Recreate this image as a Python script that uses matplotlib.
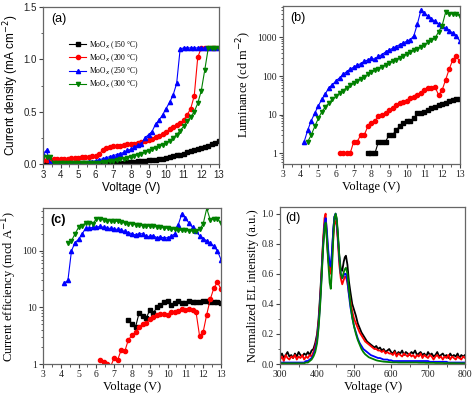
import numpy as np
import matplotlib
matplotlib.use("Agg")
import matplotlib.pyplot as plt
from matplotlib.ticker import AutoMinorLocator, LogLocator, NullFormatter

# ---------------- data ----------------
labels = ["MoO$_x$ (150 °C)", "MoO$_x$ (200 °C)", "MoO$_x$ (250 °C)", "MoO$_x$ (300 °C)"]
colors = ["#000000", "#ff0000", "#0000ff", "#008000"]
markers = ["s", "o", "^", "v"]

# (a) current density vs voltage (3..13 V, 0.2 V steps)
v_a = [round(3 + 0.2 * i, 1) for i in range(51)]
j_150 = [0.01, 0.01, 0.01, 0.01, 0.01, 0.01, 0.01, 0.01, 0.01, 0.01,
         0.01, 0.01, 0.01, 0.01, 0.01, 0.01, 0.01, 0.01, 0.01, 0.01,
         0.01, 0.01, 0.01, 0.01, 0.02, 0.02, 0.02, 0.03, 0.03, 0.03,
         0.04, 0.04, 0.04, 0.05, 0.05, 0.06, 0.07, 0.08, 0.09, 0.09,
         0.10, 0.11, 0.12, 0.13, 0.14, 0.15, 0.16, 0.17, 0.19, 0.20, 0.22]
j_200 = [0.04, 0.04, 0.04, 0.05, 0.05, 0.05, 0.05, 0.05, 0.06, 0.06,
         0.06, 0.07, 0.07, 0.07, 0.08, 0.08, 0.10, 0.13, 0.15, 0.16,
         0.17, 0.17, 0.17, 0.18, 0.19, 0.19, 0.19, 0.20, 0.21, 0.22,
         0.23, 0.24, 0.26, 0.27, 0.29, 0.31, 0.33, 0.35, 0.37, 0.39,
         0.42, 0.47, 0.53, 0.65, 1.02, 1.11, 1.11, 1.11, 1.11, 1.11, 1.11]
j_250 = [0.10, 0.13, 0.01, 0.01, 0.01, 0.01, 0.01, 0.01, 0.01, 0.01,
         0.01, 0.01, 0.01, 0.02, 0.02, 0.03, 0.04, 0.05, 0.06, 0.07,
         0.08, 0.09, 0.10, 0.11, 0.13, 0.14, 0.16, 0.18, 0.19, 0.25,
         0.28, 0.31, 0.38, 0.42, 0.47, 0.53, 0.59, 0.66, 0.77, 1.10,
         1.11, 1.11, 1.11, 1.11, 1.11, 1.11, 1.11, 1.11, 1.11, 1.11, 1.11]
j_300 = [0.07, 0.07, 0.07, 0.01, 0.01, 0.01, 0.01, 0.01, 0.01, 0.01,
         0.01, 0.01, 0.01, 0.01, 0.01, 0.01, 0.01, 0.02, 0.02, 0.03,
         0.03, 0.04, 0.05, 0.05, 0.06, 0.07, 0.08, 0.09, 0.10, 0.11,
         0.12, 0.14, 0.15, 0.17, 0.18, 0.20, 0.22, 0.25, 0.28, 0.32,
         0.36, 0.41, 0.45, 0.50, 0.58, 0.70, 0.90, 1.11, 1.11, 1.11, 1.11]

# (b) luminance
v_b150 = [round(7.8 + 0.2 * i, 1) for i in range(27)]
l_150 = [1, 1, 1, 2, 2, 2, 3, 3, 4, 5, 6, 7, 7, 8, 11, 11, 12, 13, 15, 16,
         18, 19, 20, 22, 24, 26, 25]
v_b200 = [round(6.2 + 0.2 * i, 1) for i in range(35)]
l_200 = [1, 1, 1, 1, 2, 2, 3, 3, 5, 6, 7, 9, 10, 11, 13, 15, 18, 20, 21, 22,
         27, 29, 33, 37, 43, 48, 50, 53, 32, 43, 80, 150, 260, 320, 240]
v_b250 = [round(4.2 + 0.2 * i, 1) for i in range(45)]
l_250 = [2, 4, 7, 11, 17, 25, 35, 50, 60, 75, 90, 110, 130, 150, 170, 190, 210,
         240, 260, 290, 270, 320, 360, 420, 470, 520, 580, 650, 720, 790, 870,
         1100, 2200, 5000, 4200, 3500, 3000, 2600, 2200, 2000, 1700, 1500, 1300,
         1100, 800]
v_b300 = [round(4.4 + 0.2 * i, 1) for i in range(44)]
l_300 = [2, 3, 5, 8, 12, 16, 20, 25, 30, 36, 42, 50, 57, 65, 75, 85, 97, 110,
         125, 140, 155, 175, 195, 215, 240, 265, 295, 330, 370, 410, 460, 510,
         580, 650, 740, 840, 950, 1400, 2000, 4500, 4000, 4100, 4100, 3600]

# (c) current efficiency
v_c150 = v_b150
ce_150 = [6, 5, 4.5, 8, 7, 6.5, 9, 8, 10, 11, 12.5, 13, 11, 12, 13, 12, 12, 13,
          12.5, 12.5, 12.5, 13, 13, 12.5, 12.5, 12.5, 12]
v_c200 = v_b200
ce_200 = [1.2, 1.1, 1.0, 0.9, 1.3, 1.2, 1.8, 1.7, 2.7, 3.2, 3.7, 4.6, 5.0, 5.3,
          6.2, 6.7, 7.5, 7.8, 7.8, 7.5, 8.2, 8.2, 8.5, 9.5, 9.0, 9.5, 9.0, 8.2,
          3.1, 3.7, 7.5, 14, 22, 28, 21]
v_c250 = v_b250
ce_250 = [27, 30, 100, 140, 160, 200, 250, 250, 260, 260, 270, 260, 250, 250,
          240, 240, 230, 220, 210, 200, 190, 200, 200, 180, 180, 185, 170, 175,
          170, 170, 180, 200, 290, 450, 380, 310, 260, 220, 185, 165, 150, 135,
          120, 100, 70]
v_c300 = v_b300
ce_300 = [140, 150, 200, 260, 280, 310, 310, 300, 370, 370, 350, 340, 340, 340,
          330, 320, 310, 300, 300, 290, 290, 280, 280, 270, 270, 265, 260, 255,
          250, 245, 240, 235, 230, 230, 225, 225, 220, 240, 300, 560, 350, 370,
          370, 310]

# (d) normalized EL spectra
wl = ([300, 305, 310, 315, 320, 325, 330, 335, 340, 345, 350, 355, 360, 365,
       370, 375, 380, 385, 390, 395]
      + [400, 404, 408, 412, 416, 420, 423, 426, 430, 434, 437, 440, 444, 447,
         450, 453, 456, 460, 464, 468, 472, 475, 478, 482, 486, 490, 495]
      + list(range(500, 805, 5)))
el_150 = ([0.05, 0.07, 0.04, 0.06, 0.08, 0.05, 0.06, 0.04, 0.07, 0.05, 0.08,
           0.06, 0.05, 0.07, 0.06, 0.08, 0.06, 0.09, 0.10, 0.14]
          + [0.20, 0.30, 0.45, 0.62, 0.80, 0.92, 0.95, 0.85, 0.70, 0.62, 0.62,
             0.72, 0.90, 0.98, 0.99, 0.95, 0.85, 0.72, 0.63, 0.62, 0.68, 0.71,
             0.72, 0.66, 0.55, 0.48, 0.40]
          + [0.36, 0.32, 0.27, 0.24, 0.21, 0.19, 0.17, 0.15, 0.14, 0.13, 0.12,
             0.11, 0.12, 0.10, 0.11, 0.09, 0.10, 0.08, 0.09, 0.10, 0.08]
          + [0.07, 0.09, 0.06, 0.08, 0.07, 0.09, 0.06, 0.08, 0.07, 0.06, 0.08,
             0.07, 0.09, 0.06, 0.07, 0.08, 0.06, 0.07, 0.05, 0.08, 0.06, 0.07,
             0.05, 0.06, 0.08, 0.05, 0.06, 0.07, 0.05, 0.06, 0.04, 0.07, 0.05,
             0.06, 0.05, 0.07, 0.04, 0.06, 0.05, 0.06])
el_200 = ([0.03, 0.05, 0.02, 0.06, 0.04, 0.03, 0.05, 0.04, 0.06, 0.03, 0.05,
           0.04, 0.06, 0.03, 0.05, 0.04, 0.06, 0.05, 0.08, 0.12]
          + [0.18, 0.28, 0.42, 0.60, 0.82, 0.97, 1.00, 0.88, 0.72, 0.62, 0.60,
             0.68, 0.85, 0.94, 0.95, 0.92, 0.82, 0.66, 0.57, 0.53, 0.56, 0.58,
             0.58, 0.54, 0.47, 0.42, 0.35]
          + [0.30, 0.27, 0.24, 0.21, 0.19, 0.17, 0.15, 0.14, 0.13, 0.12, 0.11,
             0.10, 0.10, 0.09, 0.09, 0.08, 0.09, 0.07, 0.08, 0.07, 0.07]
          + [0.06, 0.08, 0.05, 0.07, 0.06, 0.05, 0.07, 0.06, 0.05, 0.07, 0.05,
             0.06, 0.04, 0.06, 0.05, 0.07, 0.04, 0.06, 0.05, 0.04, 0.06, 0.05,
             0.03, 0.05, 0.06, 0.04, 0.05, 0.03, 0.05, 0.04, 0.06, 0.03, 0.05,
             0.04, 0.03, 0.05, 0.04, 0.03, 0.05, 0.04])
el_250 = ([0.01, 0.01, 0.01, 0.01, 0.01, 0.01, 0.01, 0.01, 0.01, 0.01, 0.01,
           0.01, 0.01, 0.01, 0.02, 0.02, 0.03, 0.04, 0.06, 0.10]
          + [0.16, 0.26, 0.40, 0.58, 0.78, 0.93, 0.97, 0.90, 0.76, 0.66, 0.65,
             0.74, 0.90, 0.98, 1.00, 0.96, 0.85, 0.70, 0.60, 0.57, 0.59, 0.60,
             0.60, 0.55, 0.46, 0.38, 0.31]
          + [0.25, 0.21, 0.17, 0.14, 0.12, 0.10, 0.09, 0.08, 0.07, 0.06, 0.055,
             0.05, 0.045, 0.04, 0.04, 0.035, 0.03, 0.03, 0.03, 0.025, 0.025]
          + [0.02, 0.02, 0.02, 0.02, 0.02, 0.02, 0.02, 0.02, 0.02, 0.02, 0.02,
             0.02, 0.02, 0.02, 0.02, 0.02, 0.02, 0.02, 0.02, 0.02, 0.015, 0.015,
             0.015, 0.015, 0.015, 0.015, 0.015, 0.015, 0.015, 0.015, 0.01, 0.01,
             0.01, 0.01, 0.01, 0.01, 0.01, 0.01, 0.01, 0.01])
el_300 = ([0.005, 0.005, 0.005, 0.005, 0.005, 0.005, 0.005, 0.005, 0.005,
           0.005, 0.005, 0.005, 0.005, 0.005, 0.01, 0.01, 0.02, 0.03, 0.05, 0.08]
          + [0.14, 0.24, 0.38, 0.56, 0.76, 0.90, 0.94, 0.85, 0.68, 0.54, 0.50,
             0.62, 0.85, 0.97, 1.00, 0.97, 0.88, 0.72, 0.60, 0.57, 0.61, 0.63,
             0.64, 0.60, 0.50, 0.40, 0.31]
          + [0.25, 0.20, 0.16, 0.13, 0.10, 0.08, 0.065, 0.055, 0.045, 0.04,
             0.035, 0.03, 0.025, 0.022, 0.02, 0.018, 0.016, 0.015, 0.014, 0.013,
             0.012]
          + [0.011, 0.011, 0.011, 0.01, 0.01, 0.01, 0.01, 0.01, 0.01, 0.01, 0.01,
             0.01, 0.01, 0.01, 0.009, 0.009, 0.009, 0.009, 0.008, 0.008, 0.008,
             0.008, 0.008, 0.007, 0.007, 0.007, 0.007, 0.007, 0.006, 0.006,
             0.006, 0.006, 0.006, 0.006, 0.005, 0.005, 0.005, 0.005, 0.005, 0.005])

# ---------------- drawing ----------------
SERIF = ["Liberation Serif", "DejaVu Serif"]
SANS = ["Liberation Sans", "DejaVu Sans"]
fig = plt.figure(figsize=(4.74, 3.97), dpi=100)

ax_a = fig.add_axes([0.0907, 0.587, 0.371, 0.395])
ax_b = fig.add_axes([0.597, 0.587, 0.373, 0.398])
ax_c = fig.add_axes([0.0907, 0.083, 0.3755, 0.393])
ax_d = fig.add_axes([0.591, 0.083, 0.390, 0.396])

def style(ax, family, logy=False):
    for s in ax.spines.values():
        s.set_color("#666666")
        s.set_linewidth(0.9)
    ax.tick_params(which="both", direction="out", top=False, right=False,
                   colors="#444444", labelcolor="#222222")
    ax.tick_params(which="major", length=3, width=0.8, labelsize=7, pad=1.5)
    ax.tick_params(which="minor", length=1.8, width=0.6)
    ax.xaxis.set_minor_locator(AutoMinorLocator(2))
    if not logy:
        ax.yaxis.set_minor_locator(AutoMinorLocator(2))
    else:
        ax.yaxis.set_major_locator(LogLocator(base=10))
        ax.yaxis.set_minor_locator(LogLocator(base=10, subs=np.arange(2, 10)))
        ax.yaxis.set_minor_formatter(NullFormatter())
    for lab in ax.get_xticklabels() + ax.get_yticklabels():
        lab.set_family(family)

# (a)
ya = [j_150, j_200, j_250, j_300]
for y, c, m, lab in zip(ya, colors, markers, labels):
    ax_a.plot(v_a, y, color=c, marker=m, ms=3, lw=0.8, label=lab)
ax_a.set_xlim(3, 13)
ax_a.set_ylim(0, 1.5)
ax_a.set_xticks(range(3, 14))
ax_a.set_yticks([0.0, 0.5, 1.0, 1.5])
ax_a.set_yticklabels(["0.0", "0.5", "1.0", "1.5"])
style(ax_a, SANS)
ax_a.set_xlabel("Voltage (V)", family=SANS, fontsize=8.5, labelpad=1)
ax_a.set_ylabel("Current density (mA cm$^{-2}$)", family=SANS, fontsize=8.5, labelpad=2)
ax_a.text(0.045, 0.96, "(a)", transform=ax_a.transAxes, family=SANS,
          fontsize=9, va="top", ha="left")
leg = ax_a.legend(loc="upper left", bbox_to_anchor=(0.12, 0.83), frameon=False,
                  prop={"family": SERIF, "size": 5.5}, handlelength=2.2,
                  handletextpad=0.3, labelspacing=0.2, borderpad=0.2)

# (b)
xb = [v_b150, v_b200, v_b250, v_b300]
yb = [l_150, l_200, l_250, l_300]
for x, y, c, m in zip(xb, yb, colors, markers):
    ax_b.plot(x, y, color=c, marker=m, ms=3, lw=0.8)
ax_b.set_yscale("log")
ax_b.set_xlim(3, 13)
ax_b.set_ylim(0.53, 6500)
ax_b.set_xticks(range(3, 14))
style(ax_b, SERIF, logy=True)
ax_b.set_yticks([1, 10, 100, 1000])
ax_b.set_yticklabels(["1", "10", "100", "1000"], family=SERIF)
ax_b.set_xlabel("Voltage (V)", family=SERIF, fontsize=9, labelpad=1)
ax_b.set_ylabel("Luminance (cd m$^{-2}$)", family=SERIF, fontsize=9, labelpad=2)
ax_b.text(0.04, 0.96, "(b)", transform=ax_b.transAxes, family=SANS,
          fontsize=9, va="top", ha="left")

# (c)
xc = [v_c150, v_c200, v_c250, v_c300]
yc = [ce_150, ce_200, ce_250, ce_300]
for x, y, c, m in zip(xc, yc, colors, markers):
    ax_c.plot(x, y, color=c, marker=m, ms=3, lw=0.8)
ax_c.set_yscale("log")
ax_c.set_xlim(3, 13)
ax_c.set_ylim(1, 570)
ax_c.set_xticks(range(3, 14))
style(ax_c, SERIF, logy=True)
ax_c.set_yticks([1, 10, 100])
ax_c.set_yticklabels(["1", "10", "100"], family=SERIF)
ax_c.set_xlabel("Voltage (V)", family=SERIF, fontsize=9, labelpad=1)
ax_c.set_ylabel("Current efficiency (mcd A$^{-1}$)", family=SERIF, fontsize=9, labelpad=2)
ax_c.text(0.04, 0.96, "(c)", transform=ax_c.transAxes, family=SANS,
          fontsize=9, va="top", ha="left", weight="bold")

# (d)
yd = [el_150, el_200, el_250, el_300]
for y, c in zip(yd, colors):
    ax_d.plot(wl, y, color=c, lw=1.3)
ax_d.set_xlim(300, 800)
ax_d.set_ylim(0, 1.045)
ax_d.set_xticks(range(300, 801, 100))
ax_d.set_yticks([0.0, 0.2, 0.4, 0.6, 0.8, 1.0])
ax_d.set_yticklabels(["0.0", "0.2", "0.4", "0.6", "0.8", "1.0"])
style(ax_d, SERIF)
ax_d.set_xlabel("Voltage (V)", family=SERIF, fontsize=9, labelpad=1)
ax_d.set_ylabel("Normalized EL intensity (a.u.)", family=SERIF, fontsize=9, labelpad=2)
ax_d.text(0.025, 0.97, "(d)", transform=ax_d.transAxes, family=SANS,
          fontsize=9, va="top", ha="left")

fig.savefig("out.png", dpi=100)
